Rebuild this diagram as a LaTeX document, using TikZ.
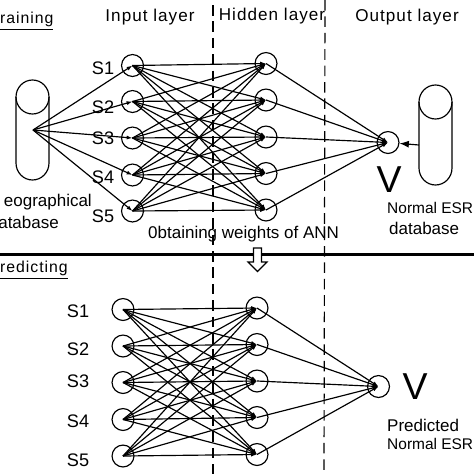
\documentclass[tikz,border=0pt]{standalone}
\usepackage{fontspec}
\usetikzlibrary{arrows.meta}
\setmainfont{Liberation Sans}
\newfontfamily\spacedfont[LetterSpace=6]{Liberation Sans}
\tikzset{
    neuron/.style={circle,draw,line width=1pt,minimum size=22*0.85pt,inner sep=0pt},
    link/.style={line width=1pt,-{Latex[length=5pt,width=3.5pt]}},
    barrel/.style={line width=1pt},
    slabel/.style={font=\fontsize{15.5}{18}\selectfont,inner sep=0pt},
    title/.style={font=\fontsize{14.6}{16}\spacedfont,inner sep=0pt},
    section/.style={font=\fontsize{13.5}{16}\spacedfont,inner sep=0pt,anchor=west},
    info/.style={font=\fontsize{14.5}{16}\selectfont,inner sep=0pt,anchor=west},
    tight/.style={font=\fontsize{13.2}{16}\selectfont,inner sep=0pt,anchor=west},
    bigv/.style={font=\fontsize{32}{36}\selectfont,inner sep=0pt}
}
\begin{document}
\begin{tikzpicture}[x=.03cm,y=-.03cm]
    \useasboundingbox (0,0) rectangle (474,474);
    % training
    \node[section] at (0,21) (train) {\underline{raining}};
    \node[title] at (150,17) (inlayer) {Input layer};
    \node[title] at (272,16) (hidlayer) {Hidden layer};
    \node[title] at (407,17) (outlayer) {Output layer};
    \draw[line width=1pt,dash pattern=on 9pt off 5pt] (213,5) -- (213,474);
    \draw[line width=1pt,dash pattern=on 9pt off 5pt] (325,0) -- (324,474);
    \foreach \i/\y/\ly in {1/65.5/68,2/101.5/107,3/138/138,4/175/177,5/211/216}{
        \node[neuron] at (132.5,\y) (tin\i) {};
        \node[slabel] at (103,\ly) (tlab\i) {S\i};
    }
    \foreach \i/\y in {1/63.5,2/100,3/137,4/173.5,5/210}{
        \node[neuron] at (266,\y) (thid\i) {};
    }
    \node[neuron] at (388,142.5) (tout) {};
    % left database
    \draw[barrel] (32.5,97) ellipse [x radius=16.5,y radius=17];
    \draw[barrel] (16,97) -- (16,163) arc [start angle=180,end angle=0,x radius=16.5,y radius=17] -- (49,97);
    \coordinate (geo) at (33,130);
    % right database
    \draw[barrel] (435.5,102) ellipse [x radius=16.5,y radius=17];
    \draw[barrel] (419,102) -- (419,168) arc [start angle=180,end angle=0,x radius=16.5,y radius=17] -- (452,102);
    \coordinate (esr) at (419,145);
    \foreach \i in {1,...,5}{
        \draw[link] (geo) -- (tin\i.center);
        \draw[link] (thid\i.center) -- (tout.center);
        \foreach \j in {1,...,5}{
            \draw[link] (tin\i.center) -- (thid\j.center);
        }
    }
    \draw[line width=1pt,-{Latex[length=8pt,width=6pt]}] (esr) -- (tout);
    \node[bigv] at (389,180) (tv) {V};
    \node[info,anchor=east] at (92,202) (geo1) {eographical};
    \node[info,anchor=east] at (59,222) (geo2) {atabase};
    \node[tight] at (387,208) (esr1) {Normal ESR};
    \node[info] at (389,228) (esr2) {database};
    \node[info] at (148,234) (weights) {0btaining weights of ANN};
    % separator
    \draw[line width=2pt] (0,254.5) -- (474,254.5);
    \draw[line width=1pt,fill=white] (253.5,248) -- (261.5,248) -- (261.5,262) -- (267,262) -- (257.5,271.5) -- (248,262) -- (253.5,262) -- cycle;
    % predicting
    \node[section] at (0,270) (pred) {\underline{redicting}};
    \foreach \i/\y/\ly in {1/309.5/311.5,2/346/349,3/382.5/381.5,4/419.5/421.5,5/456/460.5}{
        \node[neuron] at (123,\y) (pin\i) {};
        \node[slabel] at (78,\ly) (plab\i) {S\i};
    }
    \foreach \i/\y in {1/308,2/344.5,3/381,4/417.5,5/454.5}{
        \node[neuron] at (257,\y) (phid\i) {};
    }
    \node[neuron] at (378.5,386.5) (pout) {};
    \foreach \i in {1,...,5}{
        \draw[link] (phid\i.center) -- (pout.center);
        \foreach \j in {1,...,5}{
            \draw[link] (pin\i.center) -- (phid\j.center);
        }
    }
    \node[bigv] at (415,386.5) (pv) {V};
    \node[info] at (387,425.5) (pr1) {Predicted};
    \node[tight] at (387,444) (pr2) {Normal ESR};
\end{tikzpicture}
\end{document}
